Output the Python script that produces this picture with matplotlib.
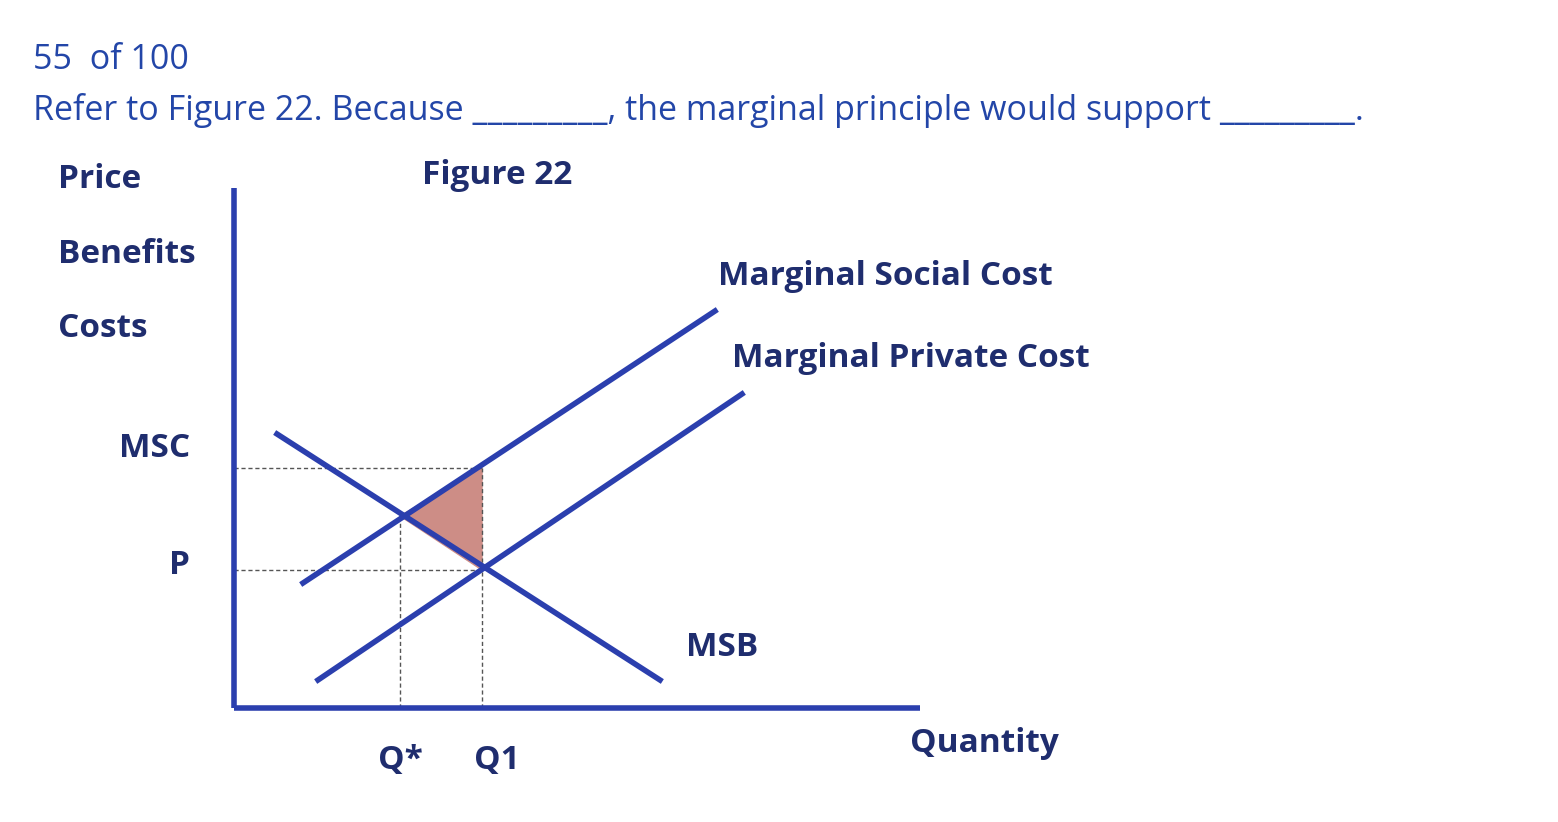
import matplotlib
matplotlib.use("Agg")
import matplotlib.pyplot as plt
import numpy as np

# Chart data in (quantity, price) units; origin at the axes corner
msc_q = [69, 481]; msc_p = [125, 397]
mpc_q = [84, 508]; mpc_p = [28, 314]
msb_q = [43, 426]; msb_p = [274, 28]
q_star, q1 = 166, 248
p_star, p_level, msc_level = 192, 138, 240
x_axis_end, y_axis_top = 686, 520

OX, OY = 234, 708  # pixel origin
def X(q): return OX + np.asarray(q, dtype=float)
def Y(p): return OY - np.asarray(p, dtype=float)

blue = "#2b3fae"
navy = "#1f2d6e"
head = "#2346a8"

fig = plt.figure(figsize=(15.58, 8.22), dpi=100)
ax = fig.add_axes([0, 0, 1, 1])
ax.set_xlim(0, 1558); ax.set_ylim(822, 0); ax.axis("off")

hk = dict(fontsize=24.5, color=head, family="Open Sans", va="center")
ax.text(33, 60, "55  of 100", **hk)
ax.text(33, 110, "Refer to Figure 22. Because _________, the marginal principle would support _________.", **hk)

# triangle
ax.fill(X([q_star, q1, q1]), Y([p_star, msc_level, p_level]), color="#cd8d86", zorder=1)
# dashed guides
dk = dict(color="#555555", lw=1, ls=(0, (3, 2)), zorder=1)
ax.plot(X([0, q1]), Y([msc_level, msc_level]), **dk)
ax.plot(X([0, q1]), Y([p_level, p_level]), **dk)
ax.plot(X([q_star, q_star]), Y([0, p_star]), **dk)
ax.plot(X([q1, q1]), Y([0, msc_level]), **dk)
# axes
ax.plot(X([0, 0]), Y([0, y_axis_top]), color=blue, lw=4, solid_capstyle="butt")
ax.plot(X([0, x_axis_end]), Y([0, 0]), color=blue, lw=4, solid_capstyle="butt")
for q, p in [(msc_q, msc_p), (mpc_q, mpc_p), (msb_q, msb_p)]:
    ax.plot(X(q), Y(p), color=blue, lw=4, zorder=3)

lk = dict(fontsize=24, color=navy, family="Open Sans", fontweight="bold", va="center")
ax.text(58, 180, "Price", **lk)
ax.text(58, 254, "Benefits", **lk)
ax.text(58, 328, "Costs", **lk)
ax.text(422, 175, "Figure 22", **lk)
ax.text(718, 276, "Marginal Social Cost", **lk)
ax.text(732, 358, "Marginal Private Cost", **lk)
ax.text(686, 647, "MSB", **lk)
ax.text(910, 743, "Quantity", **lk)
ax.text(190, 448, "MSC", ha="right", **lk)
ax.text(190, 565, "P", ha="right", **lk)
ax.text(X(q_star), 760, "Q*", ha="center", **lk)
ax.text(X(q1) + 15, 760, "Q1", ha="center", **lk)

fig.savefig("out.png", dpi=100, facecolor="white")
